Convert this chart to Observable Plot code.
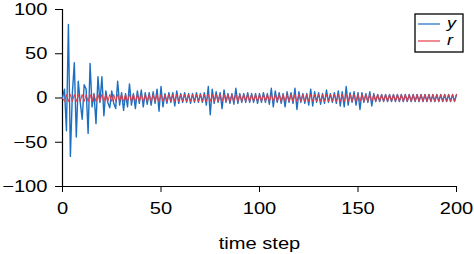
<!DOCTYPE html>
<html><head><meta charset="utf-8">
<script src="https://cdn.jsdelivr.net/npm/d3@7"></script>
<script src="https://cdn.jsdelivr.net/npm/@observablehq/plot@0.6"></script>
<style>
body{margin:0;background:#fff;}
#wrap{position:relative;width:474px;height:254px;}
#legend{position:absolute;left:414px;top:13px;}
</style></head><body><div id="wrap"></div>
<script>
const timeSteps = d3.range(0, 201);
const ySeries = [
  0, 10, -37, 83, -66, 5, 40, -44, 19, -5,
  -24, 15, 10, -40, 39, -10, 5, -29, 24, -5,
  24, -20, 8, -5, -11, 8, -6, -12, 19, -8,
  6, -14, 5, -10, 16, -8, 5, -12, 8, -6,
  9, -10, 6, -7, 6, -8, 7, -6, 10, -15,
  13, -10, 5, -6, 6, -5, 6, -9, 8, -6,
  5, -5, 6, -5, 5, -6, 5, -5, 6, -5,
  5, -5, 6, -8, 13, -19, 10, -6, 7, -5,
  6, -12, 9, -5, 5, -6, 5, -7, 11, -6,
  5, -5, 5, -5, 6, -5, 5, -5, 5, -6,
  5, -5, 6, -5, 5, -7, 11, -10, 8, -5,
  6, -6, 5, -10, 7, -5, 6, -6, 11, -13,
  7, -5, 5, -6, 5, -8, 10, -9, 7, -5,
  6, -7, 5, -6, 9, -5, 5, -5, 6, -6,
  8, -9, 7, -10, 13, -8, 6, -5, 7, -8,
  6, -13, 6, -5, 5, -5, 7, -9, 5, -4,
  4, -4, 4, -4, 4, -4, 4, -4, 4, -4,
  4, -4, 4, -4, 4, -4, 4, -4, 4, -4,
  4, -4, 4, -4, 4, -4, 4, -4, 4, -4,
  4, -4, 4, -4, 4, -4, 4, -4, 4, -4,
  4
];
const rSeries = [
  0, -4, 4, -4, 4, -4, 4, -4, 4, -4,
  4, -4, 4, -4, 4, -4, 4, -4, 4, -4,
  4, -4, 4, -4, 4, -4, 4, -4, 4, -4,
  4, -4, 4, -4, 4, -4, 4, -4, 4, -4,
  4, -4, 4, -4, 4, -4, 4, -4, 4, -4,
  4, -4, 4, -4, 4, -4, 4, -4, 4, -4,
  4, -4, 4, -4, 4, -4, 4, -4, 4, -4,
  4, -4, 4, -4, 4, -4, 4, -4, 4, -4,
  4, -4, 4, -4, 4, -4, 4, -4, 4, -4,
  4, -4, 4, -4, 4, -4, 4, -4, 4, -4,
  4, -4, 4, -4, 4, -4, 4, -4, 4, -4,
  4, -4, 4, -4, 4, -4, 4, -4, 4, -4,
  4, -4, 4, -4, 4, -4, 4, -4, 4, -4,
  4, -4, 4, -4, 4, -4, 4, -4, 4, -4,
  4, -4, 4, -4, 4, -4, 4, -4, 4, -4,
  4, -4, 4, -4, 4, -4, 4, -4, 4, -4,
  4, -4, 4, -4, 4, -4, 4, -4, 4, -4,
  4, -4, 4, -4, 4, -4, 4, -4, 4, -4,
  4, -4, 4, -4, 4, -4, 4, -4, 4, -4,
  4, -4, 4, -4, 4, -4, 4, -4, 4, -4,
  4
];
const xTicks = [0, 50, 100, 150, 200];
const yTicks = [-100, -50, 0, 50, 100];
const seriesNames = ["y", "r"];
const seriesColors = ["#1d6fc2", "#e63c48"];

const data = timeSteps.map((t, i) => ({t, y: ySeries[i], r: rSeries[i]}));

const chart = Plot.plot({
  width: 474, height: 254,
  marginLeft: 62, marginRight: 18, marginTop: 9, marginBottom: 68,
  style: {fontFamily: "'Liberation Sans', Arial, Helvetica, sans-serif", fontSize: "16.5px", color: "#000", background: "#fff", overflow: "visible"},
  x: {domain: [0, 200], ticks: xTicks, label: "time step", labelAnchor: "center", labelArrow: "none", labelOffset: 62, tickSize: 6, tickPadding: 10},
  y: {domain: [-100, 100], ticks: yTicks, label: null, tickSize: 7, tickPadding: 8,
      tickFormat: d => d < 0 ? "\u2212" + Math.abs(d) : String(d)},
  marks: [
    Plot.ruleX([0], {stroke: "#000", strokeWidth: 1.2}),
    Plot.ruleY([-100], {stroke: "#000", strokeWidth: 1.2}),
    Plot.lineY(data, {x: "t", y: "y", stroke: seriesColors[0], strokeWidth: 1.4}),
    Plot.lineY(data, {x: "t", y: "r", stroke: seriesColors[1], strokeWidth: 1})
  ]
});

// widen glyphs horizontally to match the reference typography
for (const t of chart.querySelectorAll("text")) {
  const x = +(t.getAttribute("x") || 0);
  t.removeAttribute("x");
  t.setAttribute("transform", (t.getAttribute("transform") || "") + ` translate(${x},0) scale(1.22,1)`);
}

const wrap = document.getElementById("wrap");
wrap.appendChild(chart);

// legend
const ns = "http://www.w3.org/2000/svg";
const lg = document.createElementNS(ns, "svg");
lg.setAttribute("id", "legend");
lg.setAttribute("width", 50);
lg.setAttribute("height", 40);
const box = document.createElementNS(ns, "rect");
box.setAttribute("x", 1); box.setAttribute("y", 1);
box.setAttribute("width", 48); box.setAttribute("height", 38);
box.setAttribute("fill", "#fff"); box.setAttribute("stroke", "#000"); box.setAttribute("stroke-width", 1.3);
lg.appendChild(box);
seriesNames.forEach((name, i) => {
  const yy = 11 + i * 17;
  const ln = document.createElementNS(ns, "line");
  ln.setAttribute("x1", 4); ln.setAttribute("x2", 26);
  ln.setAttribute("y1", yy); ln.setAttribute("y2", yy);
  ln.setAttribute("stroke", seriesColors[i]); ln.setAttribute("stroke-width", 1.2);
  lg.appendChild(ln);
  const tx = document.createElementNS(ns, "text");
  tx.setAttribute("transform", `translate(33,${yy + 4}) scale(1.2,1)`);
  tx.setAttribute("font-family", "'Liberation Sans', Arial, sans-serif");
  tx.setAttribute("font-style", "italic");
  tx.setAttribute("font-size", 15);
  tx.textContent = name;
  lg.appendChild(tx);
});
wrap.appendChild(lg);
</script></body></html>
